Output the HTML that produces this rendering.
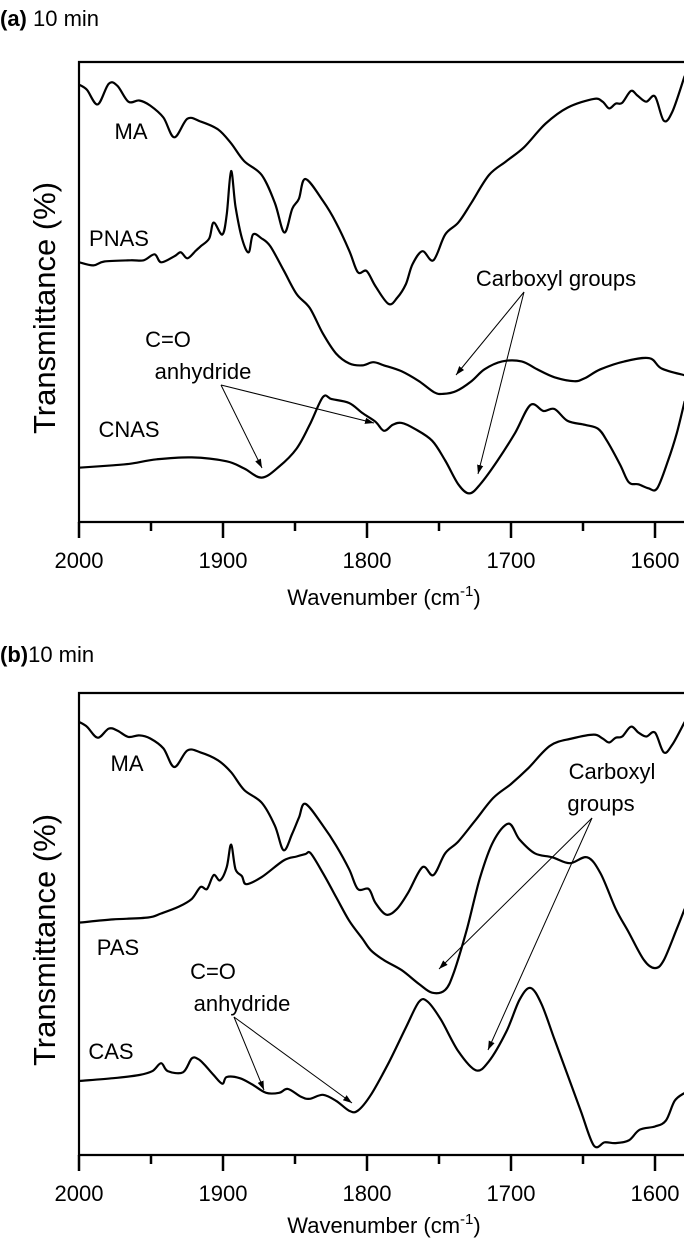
<!DOCTYPE html>
<html><head><meta charset="utf-8">
<style>
html,body{margin:0;padding:0;background:#fff;}
svg{display:block;font-family:"Liberation Sans",Arial,sans-serif;}
</style></head>
<body>
<svg id="fig" width="685" height="1239" viewBox="0 0 685 1239" xmlns="http://www.w3.org/2000/svg">
<defs>
<marker id="ah" viewBox="0 0 10 10" refX="10" refY="5" markerWidth="9" markerHeight="9" orient="auto-start-reverse" markerUnits="userSpaceOnUse"><path d="M0,1.5 L10,5 L0,8.5 z" fill="#000"/></marker>
</defs>
<g id="panelA">
<text x="0" y="26" font-size="22"><tspan font-weight="bold">(a)</tspan> 10 min</text>
</g>
<g id="panelB">
<text x="0" y="662" font-size="22"><tspan font-weight="bold">(b)</tspan>10 min</text>
</g>
</svg>
<script>
const ticks = [2000,1950,1900,1850,1800,1750,1700,1650,1600];
const tickLabels = ["2000","1900","1800","1700","1600"];
// Panel (a)
const maA_wn = [2000,1994.5,1987,1979.4,1973.3,1965.7,1958.1,1950.5,1941.4,1933.8,1924.7,1915.6,1903.5,1894.4,1885.3,1873.1,1864,1857.4,1851.9,1847.3,1842.8,1830.6,1821.5,1812.4,1806.4,1800.3,1794.2,1785.1,1779.1,1773,1768.4,1761.5,1753.9,1745.7,1736.6,1727.5,1715.3,1703.2,1691,1675.9,1660.7,1642.5,1636.4,1631.9,1627.3,1622.8,1616.7,1612.1,1606.1,1600,1593.9,1587.9,1579.4];
const maA_t = [110.3,109,105.3,110.5,110,106,106.3,105,102,97,101.7,101,99,95.5,91,87.5,80.5,73,79,81.5,86.5,81,75.5,68.5,63,63.3,59.5,55,56.5,60,65,68.3,66,72.5,75.5,80.5,87.5,91,94.5,100.5,104.5,106.7,106,104.3,105.5,105.7,108.7,107.5,106,107.3,101.2,103.5,112.5];
const pnas_wn = [2000,1990,1982.4,1964.2,1955.1,1947.5,1943,1933.8,1929.3,1924.7,1918.7,1915.6,1909.6,1906.5,1900.5,1897.4,1894.4,1891.3,1886.8,1882.2,1879.2,1873.1,1867.1,1857.9,1848.9,1839.8,1830.6,1821.5,1812.4,1803.3,1795.7,1788.2,1776,1763.9,1753.3,1747.2,1738.1,1727.5,1718.4,1706.2,1692.6,1681.9,1669.8,1656.1,1648.6,1637.9,1621.2,1603.9,1595.4,1579.4];
const pnas_t = [65.5,64.7,65.7,66,66,67.5,65.5,67,68,66.5,68.5,69.5,71.5,75.5,72.5,77.5,88.5,79.5,71.5,68,72.5,71.5,69.5,63.5,57.5,54,47.5,42.5,40,39.5,40.3,39.5,38,35.5,32.7,32.3,33,35.5,38.5,40.5,40.5,38.5,36.5,35.5,36.3,38.5,40.5,41.3,38.7,37];
const cnas_wn = [2000,1976.3,1964.2,1946,1921.7,1897.4,1885.3,1873.1,1861,1848.9,1839.8,1830.6,1824.6,1812.4,1803.3,1794.2,1788.2,1782.1,1776,1766.9,1754.8,1745.7,1736.6,1729,1721.4,1709.3,1697.1,1686.5,1677.4,1669.8,1660.7,1648.6,1639.5,1633.4,1624.3,1618.2,1611.5,1604.5,1598.5,1590.9,1584.8,1579.4];
const cnas_t = [13.7,14.3,14.7,15.8,16.3,15.3,13.5,11.2,14,18.5,24.5,31.5,31,30,27.5,25.3,23,24.5,25,23.5,20.5,15.5,9.5,7.2,9.5,15.5,22.5,29.5,28,28.5,25.5,24.5,23.5,20.5,14.5,10,9.5,8.5,8.5,15.5,22.5,30.5];
// Panel (b)
const maB_wn = [2000,1994.5,1987,1979.4,1973.3,1965.7,1958.1,1950.5,1941.4,1933.8,1924.7,1915.6,1903.5,1894.4,1885.3,1873.1,1864,1857.9,1851.9,1847.3,1842.8,1830.6,1821.5,1812.4,1806.4,1798.8,1794.2,1786.6,1779.1,1771.5,1761.5,1753.9,1745.7,1736.6,1724.4,1712.3,1700.1,1688,1672.8,1657.7,1642.5,1636.4,1631.9,1627.3,1622.8,1616.7,1611.5,1606.1,1600,1593.9,1587.9,1579.4];
const maB_t = [109.4,108.2,105.4,107.7,107.2,105.6,106,105.2,102.7,98,102.2,101.7,99.7,96.7,92.2,89,83.2,77,81.2,85.2,88.7,83.2,78.2,72.2,67.2,67.2,63.7,60.7,62.2,66.2,72.7,70.7,76.2,79.2,84.7,90.2,93.7,97.7,103.4,105.2,106.2,105.2,104.2,105.4,105.7,108.2,106.7,105.7,106.7,101.7,103.7,109.4];
const pas_wn = [2000,1976.3,1952,1943,1930.8,1921.7,1915.6,1911.1,1906.5,1902,1897.4,1894.4,1891.3,1886.8,1883.8,1873.1,1857.9,1848.9,1842.8,1839.1,1830.6,1821.5,1812.4,1803.3,1797.3,1788.2,1776,1763.9,1754.8,1745.7,1739.6,1730.5,1721.4,1712.3,1701.7,1694.1,1683.5,1671.3,1659.2,1647.1,1637.9,1627.3,1618.2,1607.6,1600,1593.9,1584.8,1579.4];
const pas_t = [58.7,59.5,60,61,62.7,64.7,67.7,67.2,70.7,69.4,72.7,78.4,72.2,70.4,68.4,70.2,74.4,75.4,76,76.2,71.2,65.2,59.2,54.7,51.7,49.2,46.7,43.2,41,41.7,46.2,57.2,70.2,79.2,83.7,79.7,76.2,75.2,73.7,75.2,71.2,62.2,56.2,49.2,47.2,49.2,57.2,62.2];
const cas_wn = [2000,1976.3,1958.1,1949,1943,1938.4,1927.8,1921.7,1917.1,1912.6,1906.5,1900.5,1897.4,1888.3,1879.2,1870.1,1861,1854.9,1845.8,1839.8,1830.6,1821.5,1812.4,1806.4,1797.3,1785.1,1773,1763.9,1757.8,1748.7,1736.6,1724.4,1715.3,1703.2,1694.1,1686.5,1678.9,1669.8,1660.7,1651.6,1642.5,1634.9,1627.3,1618.2,1610.6,1600,1592.4,1586.3,1579.4];
const cas_t = [18.7,19.4,20.2,21.2,23.2,21.2,20.9,24.4,24.2,22.7,20.2,18,19.7,19.4,17.7,15.7,15.7,16.7,14.7,14.2,15.2,13.7,11.2,11.2,15.2,23.2,32.2,38.7,38.7,34.2,26.2,21.4,23.7,31.2,39.2,42.2,38.2,29.2,20.2,11.2,2.4,3.2,3,3.7,6.4,7.2,8.7,13.7,15.7];

const NS = "http://www.w3.org/2000/svg";
function mk(tag, attrs, parent){ const e=document.createElementNS(NS,tag); for(const k in attrs) e.setAttribute(k,attrs[k]); parent.appendChild(e); return e; }
const X0=79, XR=684, PX=1.44;
function xs(w){ return X0 + (2000-w)*PX; }
function makeY(top,bottom,vmax){ return v => bottom - v*(bottom-top)/vmax; }
function curvePath(wn,t,ys){
  const n=Math.min(wn.length,t.length); const p=[];
  for(let i=0;i<n;i++) p.push([xs(wn[i]),ys(t[i])]);
  let d="M"+p[0][0].toFixed(1)+","+p[0][1].toFixed(1);
  for(let i=0;i<n-1;i++){
    const p0=p[Math.max(0,i-1)],p1=p[i],p2=p[i+1],p3=p[Math.min(n-1,i+2)];
    const c1x=p1[0]+(p2[0]-p0[0])/6,c1y=p1[1]+(p2[1]-p0[1])/6;
    const c2x=p2[0]-(p3[0]-p1[0])/6,c2y=p2[1]-(p3[1]-p1[1])/6;
    d+=" C"+c1x.toFixed(1)+","+c1y.toFixed(1)+" "+c2x.toFixed(1)+","+c2y.toFixed(1)+" "+p2[0].toFixed(1)+","+p2[1].toFixed(1);
  }
  return d;
}
function panel(g,top,bottom,vmax,series,pfx){
  const ys=makeY(top,bottom,vmax);
  const clip=mk("clipPath",{id:"clip"+pfx},g);
  mk("rect",{x:X0,y:top,width:XR-X0,height:bottom-top},clip);
  const cg=mk("g",{"clip-path":"url(#clip"+pfx+")"},g);
  series.forEach(s=>{
    const path=mk("path",{d:curvePath(s[0],s[1],ys),fill:"none",stroke:"#000","stroke-width":"2.2","stroke-linejoin":"round"},cg);
    
    
  });
  const box=mk("path",{d:"M"+XR+","+top+" H"+X0+" V"+bottom+" H"+XR,fill:"none",stroke:"#000","stroke-width":"2.2"},g);
  
  
  ticks.forEach(w=>{
    const major = w%100===0;
    const tk=mk("line",{x1:xs(w),x2:xs(w),y1:bottom,y2:bottom+(major?16:9),stroke:"#000","stroke-width":"2.5"},g);
    
    
  });
  tickLabels.forEach(l=>{
    const tl=mk("text",{x:xs(+l),y:bottom+46,"font-size":"22","text-anchor":"middle"},g);
    tl.textContent=l;
    
    
  });
}
panel(document.getElementById("panelA"),62,522,116,[[maA_wn,maA_t,"ma-curve-a"],[pnas_wn,pnas_t,"pnas-curve"],[cnas_wn,cnas_t,"cnas-curve"]],"a");
panel(document.getElementById("panelB"),693,1155,116.7,[[maB_wn,maB_t,"ma-curve-b"],[pas_wn,pas_t,"pas-curve"],[cas_wn,cas_t,"cas-curve"]],"b");
</script>
<script>
(function(){
const NS="http://www.w3.org/2000/svg";
const svg=document.getElementById("fig");
function txt(x,y,s,str,name,extra){const e=document.createElementNS(NS,"text");e.setAttribute("x",x);e.setAttribute("y",y);e.setAttribute("font-size",s);if(extra)for(const k in extra)e.setAttribute(k,extra[k]);e.textContent=str;


svg.appendChild(e);return e;}
function arrow(x1,y1,x2,y2){const l=document.createElementNS(NS,"line");l.setAttribute("x1",x1);l.setAttribute("y1",y1);l.setAttribute("x2",x2);l.setAttribute("y2",y2);l.setAttribute("stroke","#000");l.setAttribute("stroke-width","1");l.setAttribute("marker-end","url(#ah)");


svg.appendChild(l);}
// panel a
txt(131,139,22,"MA","label-ma-a",{"text-anchor":"middle"});
txt(119,246,22,"PNAS","label-pnas",{"text-anchor":"middle"});
txt(129,437,22,"CNAS","label-cnas",{"text-anchor":"middle"});
txt(168,347,22,"C=O","label-co-a",{"text-anchor":"middle"});
txt(203,379,22,"anhydride","label-anhydride-a",{"text-anchor":"middle"});
txt(556,286,22,"Carboxyl groups","label-carboxyl-a",{"text-anchor":"middle"});
arrow(524,292,456,375);arrow(524,292,478,474);
arrow(221,385,262,468);arrow(221,385,374,423);
txt(0,0,31,"Transmittance (%)","y-axis-title-a",{"text-anchor":"middle","transform":"translate(55,308) rotate(-90)"});
const xa=txt(384,605,22,"","x-axis-title-a",{"text-anchor":"middle"});
xa.innerHTML='Wavenumber (cm<tspan dy="-9" font-size="15">-1</tspan><tspan dy="9">)</tspan>';
// panel b
txt(127,771,22,"MA","label-ma-b",{"text-anchor":"middle"});
txt(118,955,22,"PAS","label-pas",{"text-anchor":"middle"});
txt(111,1059,22,"CAS","label-cas",{"text-anchor":"middle"});
txt(213,979,22,"C=O","label-co-b",{"text-anchor":"middle"});
txt(242,1011,22,"anhydride","label-anhydride-b",{"text-anchor":"middle"});
txt(612,779,22,"Carboxyl","label-carboxyl-b",{"text-anchor":"middle"});
txt(601,811,22,"groups","label-groups-b",{"text-anchor":"middle"});
arrow(592,818,439,969);arrow(592,818,488,1050);
arrow(234,1017,264,1090);arrow(234,1017,352,1103);
txt(0,0,31,"Transmittance (%)","y-axis-title-b",{"text-anchor":"middle","transform":"translate(55,940) rotate(-90)"});
const xb=txt(384,1233,22,"","x-axis-title-b",{"text-anchor":"middle"});
xb.innerHTML='Wavenumber (cm<tspan dy="-9" font-size="15">-1</tspan><tspan dy="9">)</tspan>';
})();
</script>
</body></html>
